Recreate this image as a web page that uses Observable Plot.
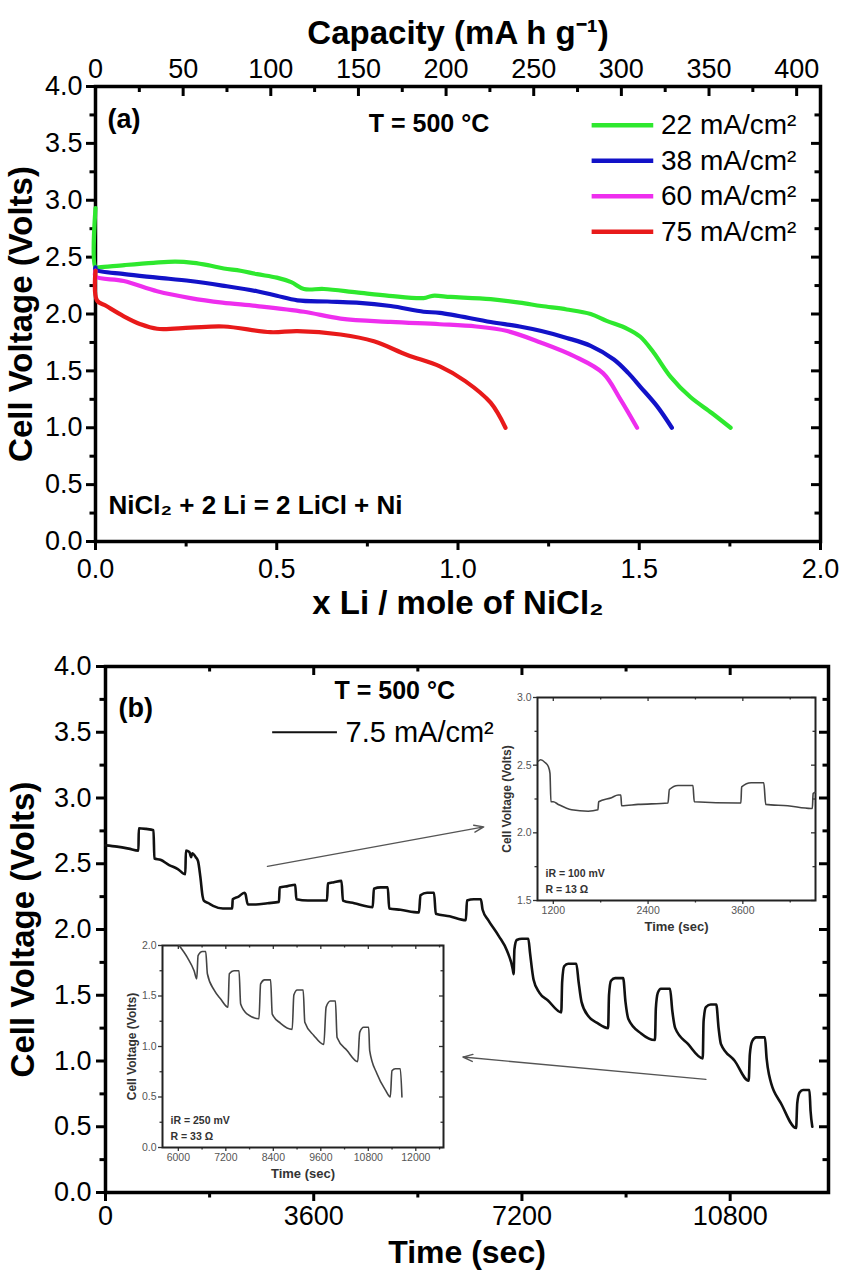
<!DOCTYPE html>
<html>
<head>
<meta charset="utf-8">
<script src="https://cdn.jsdelivr.net/npm/d3@7"></script>
<script src="https://cdn.jsdelivr.net/npm/@observablehq/plot@0.6"></script>
<style>
  html, body { margin: 0; padding: 0; background: #fff; }
  #fig { position: relative; width: 841px; height: 1280px; overflow: hidden; background: #fff; }
</style>
</head>
<body>
<div id="fig"></div>
<script>
// ---------------- Panel (a): discharge of NiCl2 cathode at 500 °C ----------------
const rateLabels = ["22 mA/cm²", "38 mA/cm²", "60 mA/cm²", "75 mA/cm²"];
const rateColors = ["#2ee82e", "#1212c8", "#ee2eee", "#e81a1a"];

const xLi22  = [0, 0, 0.01, 0.08, 0.16, 0.22, 0.27, 0.31, 0.354, 0.40, 0.446, 0.50, 0.54, 0.575, 0.63, 0.72, 0.81, 0.905, 0.93, 0.98, 1.09, 1.17, 1.23, 1.30, 1.366, 1.41, 1.467, 1.503, 1.54, 1.586, 1.641, 1.70, 1.752];
const volt22 = [2.93, 2.41, 2.41, 2.43, 2.45, 2.46, 2.45, 2.43, 2.40, 2.38, 2.35, 2.32, 2.28, 2.22, 2.22, 2.19, 2.16, 2.14, 2.16, 2.15, 2.13, 2.10, 2.07, 2.04, 2.00, 1.94, 1.87, 1.80, 1.66, 1.45, 1.27, 1.13, 1.00];

const xLi38  = [0, 0, 0.08, 0.17, 0.262, 0.35, 0.446, 0.50, 0.557, 0.64, 0.72, 0.814, 0.905, 0.95, 1.09, 1.17, 1.23, 1.30, 1.366, 1.43, 1.47, 1.503, 1.549, 1.59];
const volt38 = [2.41, 2.39, 2.35, 2.32, 2.29, 2.25, 2.20, 2.16, 2.12, 2.11, 2.10, 2.07, 2.02, 2.01, 1.93, 1.89, 1.85, 1.79, 1.72, 1.60, 1.48, 1.36, 1.19, 1.00];

const xLi60  = [0, 0, 0.078, 0.17, 0.262, 0.35, 0.446, 0.575, 0.676, 0.814, 0.95, 1.05, 1.136, 1.228, 1.32, 1.40, 1.448, 1.494];
const volt60 = [2.38, 2.33, 2.29, 2.20, 2.14, 2.10, 2.07, 2.02, 1.96, 1.93, 1.91, 1.89, 1.85, 1.75, 1.63, 1.48, 1.25, 1.00];

const xLi75  = [0, 0.004, 0.03, 0.078, 0.124, 0.17, 0.262, 0.354, 0.483, 0.557, 0.676, 0.768, 0.86, 0.95, 1.02, 1.09, 1.131];
const volt75 = [2.38, 2.12, 2.07, 1.98, 1.91, 1.87, 1.88, 1.89, 1.84, 1.85, 1.82, 1.76, 1.64, 1.54, 1.41, 1.22, 1.00];

// axis ticks of panel (a)
const xLiMajor = [0, 0.5, 1.0, 1.5, 2.0];
const xLiMinor = [0.25, 0.75, 1.25, 1.75];
const voltMajor = [0, 0.5, 1.0, 1.5, 2.0, 2.5, 3.0, 3.5, 4.0];
const voltMinor = [0.25, 0.75, 1.25, 1.75, 2.25, 2.75, 3.25, 3.75];
const capMajor = [0, 50, 100, 150, 200, 250, 300, 350, 400];
const capMinor = [25, 75, 125, 175, 225, 275, 325, 375];
const capPerLi = 206.8; // mA h g-1 delivered per mole of Li per mole of NiCl2

// ---------------- Panel (b): pulsed discharge at 7.5 mA/cm² ----------------
const timeB = [0, 200, 400, 570, 575, 700, 830, 845, 950, 1100, 1250, 1380, 1390, 1450, 1480, 1500, 1560, 1600, 1640, 1680, 1700, 1780, 1860, 2030, 2190,
  2200, 2300, 2400, 2420, 2460, 2600, 2800, 3000, 3010, 3150, 3280, 3300, 3500, 3830, 3845, 3950, 4080, 4105, 4300, 4620,
  4640, 4760, 4880, 4905, 5100, 5420, 5445, 5560, 5680, 5710, 5950, 6230, 6250, 6370, 6490, 6520, 6620, 6800, 6940, 7040, 7056,
  7070, 7110, 7200, 7310, 7340, 7400, 7500, 7650, 7880, 7895, 7930, 8000, 8140, 8180, 8230, 8350, 8500, 8690,
  8705, 8740, 8812, 8950, 8990, 9040, 9260, 9500, 9515, 9550, 9603, 9760, 9800, 9850, 10070, 10326,
  10340, 10380, 10464, 10560, 10600, 10640, 10880, 11120, 11140, 11180, 11250, 11400, 11430, 11470, 11700, 11940,
  11960, 12000, 12060, 12170, 12190, 12220];
const voltB = [2.64, 2.63, 2.615, 2.60, 2.77, 2.765, 2.755, 2.54, 2.53, 2.49, 2.46, 2.42, 2.60, 2.59, 2.55, 2.58, 2.55, 2.52, 2.40, 2.25, 2.22, 2.20, 2.18, 2.16, 2.16,
  2.23, 2.25, 2.28, 2.27, 2.19, 2.19, 2.20, 2.21, 2.32, 2.33, 2.34, 2.23, 2.22, 2.22, 2.35, 2.36, 2.37, 2.22, 2.20, 2.17,
  2.31, 2.32, 2.32, 2.16, 2.15, 2.13, 2.26, 2.28, 2.28, 2.12, 2.10, 2.07, 2.22, 2.23, 2.23, 2.15, 2.07, 1.95, 1.84, 1.70, 1.66,
  1.85, 1.92, 1.93, 1.93, 1.82, 1.62, 1.52, 1.46, 1.37, 1.60, 1.72, 1.74, 1.74, 1.60, 1.45, 1.34, 1.29, 1.25,
  1.50, 1.61, 1.63, 1.63, 1.45, 1.32, 1.21, 1.16, 1.40, 1.52, 1.55, 1.55, 1.38, 1.25, 1.13, 1.02,
  1.30, 1.41, 1.43, 1.43, 1.25, 1.13, 1.00, 0.85, 1.05, 1.15, 1.18, 1.18, 1.02, 0.90, 0.66, 0.49,
  0.68, 0.76, 0.78, 0.78, 0.62, 0.50];

const timeMajor = [0, 3600, 7200, 10800];
const timeMinor = [1800, 5400, 9000];

// inset: early plateau with 100 mV pulses
const timeInsetA = [1010, 1040, 1095, 1137, 1158, 1170, 1200, 1263, 1432, 1642, 1765, 1775, 1937, 2021, 2055, 2065, 2274, 2652, 2670, 2779, 2968, 2985, 3537, 3575, 3585, 3705, 3865, 3890, 4168, 4463, 4480, 4490, 4515];
const voltInsetA = [2.53, 2.54, 2.52, 2.49, 2.44, 2.23, 2.23, 2.21, 2.17, 2.16, 2.17, 2.23, 2.26, 2.28, 2.28, 2.20, 2.21, 2.22, 2.32, 2.35, 2.35, 2.23, 2.22, 2.22, 2.34, 2.37, 2.37, 2.21, 2.20, 2.18, 2.18, 2.29, 2.30];
const insetATimeMajor = [1200, 2400, 3600];
const insetATimeMinor = [1800, 3000, 4200];
const insetAVoltMajor = [1.5, 2.0, 2.5, 3.0];
const insetAVoltMinor = [1.75, 2.25, 2.75];

// inset: late discharge with 250 mV pulses
const timeInsetB = [6020, 6230, 6398, 6465, 6499, 6608, 6692, 6734, 6902, 7070, 7255, 7289, 7406, 7533, 7575, 7743, 8037, 8079, 8180, 8331, 8373, 8583, 8877, 8919, 9003, 9154, 9196, 9423, 9675, 9734, 9843, 9969, 10011, 10263, 10532, 10583, 10684, 10809, 10835, 11019, 11230, 11356, 11398, 11482, 11608, 11650];
const voltInsetB = [2.00, 1.88, 1.75, 1.67, 1.90, 1.94, 1.94, 1.72, 1.56, 1.47, 1.39, 1.72, 1.75, 1.75, 1.42, 1.32, 1.275, 1.62, 1.66, 1.66, 1.32, 1.23, 1.17, 1.51, 1.56, 1.56, 1.24, 1.11, 1.02, 1.39, 1.45, 1.45, 1.09, 0.96, 0.85, 1.14, 1.19, 1.19, 0.96, 0.73, 0.57, 0.50, 0.76, 0.78, 0.78, 0.50];
const insetBTimeMajor = [6000, 7200, 8400, 9600, 10800, 12000];
const insetBTimeMinor = [6600, 7800, 9000, 10200, 11400, 12600];
const insetBVoltMajor = [0, 0.5, 1.0, 1.5, 2.0];
const insetBVoltMinor = [0.25, 0.75, 1.25, 1.75];

// ---------------- drawing helpers ----------------
const FONT = "'Liberation Sans', Arial, Helvetica, sans-serif";
const fig = document.getElementById("fig");

function place(el, left, top) {
  el.style.position = "absolute";
  el.style.left = left + "px";
  el.style.top = top + "px";
  fig.appendChild(el);
}

// Ticks along a framed box: outward on bottom/left, inward mirrors on top/right.
function boxTicks({xMajor, xMinor, yMajor, yMinor, fw, fh, major, minor, sw, stroke = "black", mirrorX = true, mirrorY = true}) {
  const marks = [];
  for (const [vals, len] of [[xMajor, major], [xMinor, minor]]) {
    marks.push(Plot.ruleX(vals, {x: d => d, insetTop: fh, insetBottom: -len, strokeWidth: sw, stroke}));
    if (mirrorX) marks.push(Plot.ruleX(vals, {x: d => d, insetBottom: fh - len, strokeWidth: sw, stroke}));
  }
  for (const [vals, len] of [[yMajor, major], [yMinor, minor]]) {
    marks.push(Plot.ruleY(vals, {y: d => d, insetRight: fw, insetLeft: -len, strokeWidth: sw, stroke}));
    if (mirrorY) marks.push(Plot.ruleY(vals, {y: d => d, insetLeft: fw - len, strokeWidth: sw, stroke}));
  }
  return marks;
}

// ---------------- panel (a) ----------------
{
  const width = 841, height = 630;
  const m = {top: 86, right: 21, bottom: 89, left: 95};
  const fw = width - m.left - m.right, fh = height - m.top - m.bottom;
  const series = [
    {label: rateLabels[0], color: rateColors[0], x: xLi22, v: volt22},
    {label: rateLabels[1], color: rateColors[1], x: xLi38, v: volt38},
    {label: rateLabels[2], color: rateColors[2], x: xLi60, v: volt60},
    {label: rateLabels[3], color: rateColors[3], x: xLi75, v: volt75}
  ];
  const lineMarks = series.map(s =>
    Plot.line(s.x.map((x, i) => ({x, v: s.v[i]})), {x: "x", y: "v", stroke: s.color, strokeWidth: 4.2, curve: "catmull-rom", strokeLinejoin: "round", strokeLinecap: "round"})
  );
  // legend, stacked in the upper right corner of the frame
  const legX1 = 1.37, legX2 = 1.54, legTextX = 1.56, legTop = 3.66, legStep = 0.312;
  const legendMarks = series.flatMap((s, i) => [
    Plot.ruleY([legTop - i * legStep], {y: d => d, x1: legX1, x2: legX2, stroke: s.color, strokeWidth: 4.5}),
    Plot.text([s.label], {x: legTextX, y: legTop - i * legStep, text: d => d, textAnchor: "start", fontSize: 28, fontFamily: FONT})
  ]);
  const plotA = Plot.plot({
    width, height,
    marginTop: m.top, marginRight: m.right, marginBottom: m.bottom, marginLeft: m.left,
    x: {domain: [0, 2], axis: null},
    y: {domain: [0, 4], axis: null},
    style: {fontFamily: FONT, background: "none", overflow: "visible"},
    marks: [
      ...boxTicks({xMajor: xLiMajor, xMinor: xLiMinor, yMajor: voltMajor, yMinor: voltMinor, fw, fh, major: 9, minor: 5.5, sw: 3, mirrorX: false}),
      // capacity scale on the top edge, ticks pointing into the frame
      Plot.ruleX(capMajor, {x: c => c / capPerLi, insetBottom: fh - 10, strokeWidth: 3}),
      Plot.ruleX(capMinor, {x: c => c / capPerLi, insetBottom: fh - 6, strokeWidth: 3}),
      Plot.frame({strokeWidth: 3.5}),
      ...lineMarks,
      Plot.text(xLiMajor, {x: d => d, text: d => d.toFixed(1), frameAnchor: "bottom", dy: 36, fontSize: 27}),
      Plot.text(voltMajor, {y: d => d, text: d => d.toFixed(1), frameAnchor: "left", dx: -13, textAnchor: "end", fontSize: 27}),
      Plot.text(capMajor, {x: c => c / capPerLi, text: c => String(c), frameAnchor: "top", dy: -28, fontSize: 27}),
      Plot.text(["Capacity (mA h g⁻¹)"], {frameAnchor: "top", dy: -66, fontSize: 33, fontWeight: "bold"}),
      Plot.text(["x Li / mole of NiCl₂"], {frameAnchor: "bottom", dy: 72, fontSize: 33, fontWeight: "bold"}),
      Plot.text(["Cell Voltage (Volts)"], {frameAnchor: "left", textAnchor: "middle", dx: -74, rotate: -90, fontSize: 33, fontWeight: "bold"}),
      Plot.text(["(a)"], {frameAnchor: "top-left", dx: 12, dy: 22, textAnchor: "start", fontSize: 27, fontWeight: "bold"}),
      Plot.text(["T = 500 °C"], {x: 0.92, y: 3.67, text: d => d, fontSize: 25, fontWeight: "bold"}),
      Plot.text(["NiCl₂ + 2 Li = 2 LiCl + Ni"], {frameAnchor: "bottom-left", dx: 13, dy: -28, textAnchor: "start", fontSize: 26, fontWeight: "bold"}),
      ...legendMarks
    ]
  });
  place(plotA, 0, 0);
}

// ---------------- panel (b) ----------------
{
  const width = 841, height = 650;
  const m = {top: 36, right: 13, bottom: 88, left: 105};
  const fw = width - m.left - m.right, fh = height - m.top - m.bottom;
  const rows = timeB.map((t, i) => ({t, v: voltB[i]}));
  const plotB = Plot.plot({
    width, height,
    marginTop: m.top, marginRight: m.right, marginBottom: m.bottom, marginLeft: m.left,
    x: {domain: [0, 12500], axis: null},
    y: {domain: [0, 4], axis: null},
    style: {fontFamily: FONT, background: "none", overflow: "visible"},
    marks: [
      ...boxTicks({xMajor: timeMajor, xMinor: timeMinor, yMajor: voltMajor, yMinor: voltMinor, fw, fh, major: 9, minor: 5.5, sw: 3}),
      Plot.frame({strokeWidth: 3.5}),
      Plot.line(rows, {x: "t", y: "v", stroke: "#111", strokeWidth: 2.6, curve: "monotone-x", strokeLinejoin: "round"}),
      // pointers from the curve to the two enlarged views
      Plot.arrow([{x1: 2800, y1: 2.48, x2: 6540, y2: 2.78}, {x1: 10380, y1: 0.86, x2: 6180, y2: 1.03}],
        {x1: "x1", y1: "y1", x2: "x2", y2: "y2", stroke: "#555", strokeWidth: 1.4, headLength: 11, headAngle: 40}),
      Plot.text(timeMajor, {x: d => d, text: d => String(d), frameAnchor: "bottom", dy: 32, fontSize: 27}),
      Plot.text(voltMajor, {y: d => d, text: d => d.toFixed(1), frameAnchor: "left", dx: -14, textAnchor: "end", fontSize: 27}),
      Plot.text(["Time (sec)"], {frameAnchor: "bottom", dy: 70, fontSize: 32, fontWeight: "bold"}),
      Plot.text(["Cell Voltage (Volts)"], {frameAnchor: "left", textAnchor: "middle", dx: -82, rotate: -90, fontSize: 33, fontWeight: "bold"}),
      Plot.text(["(b)"], {frameAnchor: "top-left", dx: 13, dy: 31, textAnchor: "start", fontSize: 27, fontWeight: "bold"}),
      Plot.text(["T = 500 °C"], {x: 5000, y: 3.81, text: d => d, fontSize: 25, fontWeight: "bold"}),
      Plot.ruleY([3.5], {y: d => d, x1: 2890, x2: 4010, stroke: "#111", strokeWidth: 2}),
      Plot.text(["7.5 mA/cm²"], {x: 4150, y: 3.5, text: d => d, textAnchor: "start", fontSize: 29})
    ]
  });
  place(plotB, 0, 630);
}

// ---------------- enlarged views inside panel (b) ----------------
function inset({t, v, xDomain, yDomain, xMajor, xMinor, yMajor, yMinor, xFmt, note, width, height, m}) {
  const fw = width - m.left - m.right, fh = height - m.top - m.bottom;
  const rows = t.map((d, i) => ({t: d, v: v[i]}));
  return Plot.plot({
    width, height,
    marginTop: m.top, marginRight: m.right, marginBottom: m.bottom, marginLeft: m.left,
    x: {domain: xDomain, axis: null},
    y: {domain: yDomain, axis: null},
    style: {fontFamily: FONT, background: "none", overflow: "visible"},
    marks: [
      ...boxTicks({xMajor, xMinor, yMajor, yMinor, fw, fh, major: 4, minor: 2.5, sw: 1.3, stroke: "#333"}),
      Plot.frame({stroke: "#222", strokeWidth: 2}),
      Plot.line(rows, {x: "t", y: "v", stroke: "#444", strokeWidth: 1.6, curve: "monotone-x", strokeLinejoin: "round"}),
      Plot.text(xMajor, {x: d => d, text: xFmt, frameAnchor: "bottom", dy: 13, fontSize: 10.5, fill: "#555"}),
      Plot.text(yMajor, {y: d => d, text: d => d.toFixed(1), frameAnchor: "left", dx: -6, textAnchor: "end", fontSize: 10.5, fill: "#555"}),
      Plot.text(["Time (sec)"], {frameAnchor: "bottom", dy: 30, fontSize: 13, fontWeight: "bold", fill: "#333"}),
      Plot.text(["Cell Voltage (Volts)"], {frameAnchor: "left", textAnchor: "middle", dx: -30, rotate: -90, fontSize: 12, fontWeight: "bold", fill: "#333"}),
      Plot.text([note], {frameAnchor: "bottom-left", dx: 8, dy: -8, textAnchor: "start", lineAnchor: "bottom", lineHeight: 1.45, fontSize: 10.5, fontWeight: "bold", fill: "#333"})
    ]
  });
}

place(inset({
  t: timeInsetA, v: voltInsetA, xDomain: [1000, 4520], yDomain: [1.5, 3.0],
  xMajor: insetATimeMajor, xMinor: insetATimeMinor, yMajor: insetAVoltMajor, yMinor: insetAVoltMinor,
  xFmt: d => String(d), note: "iR = 100 mV\nR = 13 Ω",
  width: 355, height: 270, m: {top: 15, right: 10, bottom: 52, left: 67}
}), 470, 682);

place(inset({
  t: timeInsetB, v: voltInsetB, xDomain: [5600, 12700], yDomain: [0, 2.0],
  xMajor: insetBTimeMajor, xMinor: insetBTimeMinor.filter(d => d < 12700), yMajor: insetBVoltMajor, yMinor: insetBVoltMinor,
  xFmt: d => String(d), note: "iR = 250 mV\nR = 33 Ω",
  width: 355, height: 255, m: {top: 10, right: 12, bottom: 43, left: 62}
}), 100, 935);
</script>
</body>
</html>
